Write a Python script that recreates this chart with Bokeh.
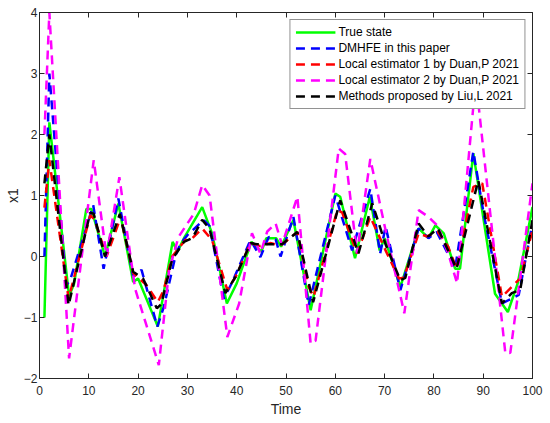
from bokeh.plotting import figure
from bokeh.models import Range1d, LinearAxis, Legend, LegendItem, FixedTicker, CustomLabelingPolicy
from bokeh.embed import file_html
from bokeh.resources import INLINE

# 真实状态与各估计器的折线顶点
true_t = [1, 2, 6, 7, 9.5, 10.5, 13.3, 16, 19, 20, 24, 27, 28, 29.3, 33, 35, 38, 40, 43, 45, 46, 48, 49,
          51.5, 55, 60, 61, 64, 67, 69, 70, 73.2, 76.9, 78.9, 80.3, 82, 84.3, 85.3, 88, 92.4, 95, 97, 100]
true_v = [-1.0, 2.2, -0.65, -0.45, 0.78, 0.78, 0.0, 0.87, -0.42, -0.36, -1.15, 0.24, 0.08, 0.3, 0.81, 0.38,
          -0.77, -0.44, 0.24, 0.08, 0.3, 0.3, 0.16, 0.6, -0.88, 1.03, 0.98, -0.03, 0.98, 0.1, 0.3, -0.5,
          0.46, 0.3, 0.51, 0.38, -0.2, -0.2, 1.69, -0.61, -0.91, -0.44, 0.81]

blue_t = [1, 2, 5.4, 6.2, 10.9, 13, 16, 19, 20.7, 23.9, 25.2, 27.6, 28.6, 30, 33.3, 34.5, 37.4, 39.1, 42.8,
          44.8, 46.5, 47.9, 48.9, 51.5, 54.6, 60, 63.4, 67.1, 69.1, 70.2, 73.2, 76.9, 78.9, 80.6, 82.5, 84.3,
          88, 90.1, 93.8, 97.2, 100]
blue_v = [0.0, 3.0, -0.47, -0.39, 0.84, -0.2, 0.95, -0.33, -0.22, -1.15, -0.83, 0.02, 0.21, 0.35, 0.6, 0.5,
          -0.69, -0.42, 0.27, -0.01, 0.32, 0.28, 0.0, 0.65, -0.8, 1.0, 0.1, 1.11, 0.05, 0.49, -0.55, 0.46,
          0.3, 0.4, 0.1, -0.2, 1.72, 0.7, -0.77, -0.63, 0.55]

red_t = [1, 2, 5.9, 10.3, 11.2, 13.6, 16, 16.7, 19, 21.7, 24, 25.2, 26.9, 29.6, 31, 33, 35, 38.1, 39.8, 42.8,
         44.8, 46.8, 48.2, 49.2, 52.3, 54.6, 55.6, 60.4, 61.4, 64.4, 67.1, 70.2, 72.9, 73.9, 76.9, 78.5,
         80.8, 82.9, 84.6, 88, 89.8, 93.8, 97.5, 100]
red_v = [0.8, 1.58, -0.69, 0.68, 0.6, 0.0, 0.54, 0.56, -0.27, -0.47, -0.75, -0.55, 0.0, 0.27, 0.3, 0.46, 0.27,
         -0.55, -0.33, 0.22, 0.17, 0.22, 0.19, 0.2, 0.4, -0.5, -0.66, 0.76, 0.72, 0.05, 0.65, 0.1, -0.36,
         -0.35, 0.38, 0.33, 0.4, 0.16, -0.2, 1.14, 1.2, -0.66, -0.36, 0.43]

mag_t = [1, 2, 6, 11, 13.6, 16.2, 19.4, 24.2, 26.3, 28.2, 31.3, 33, 34.5, 38.1, 40.5, 43.1, 44.8, 46.2, 47.9,
         49.2, 52.3, 55, 56, 60.7, 62, 64.4, 67.1, 70.2, 74, 76.9, 78.9, 80.8, 82.9, 84.7, 88.5, 94.5, 95.5, 100]
mag_v = [2.0, 4.0, -1.67, 1.58, 0.0, 1.3, -0.53, -1.78, -0.22, 0.32, 0.7, 1.17, 1.0, -1.32, -0.77, 0.38, 0.05,
         0.41, 0.54, 0.19, 0.98, -1.43, -1.38, 1.77, 1.68, 0.05, 1.6, 0.43, -0.93, 0.76, 0.65, 0.5, 0.05,
         -0.44, 2.9, -1.59, -1.58, 1.2]

black_t = [1, 2, 5.9, 10.3, 11, 13.3, 16.3, 19, 21, 23.8, 24.7, 26.9, 29.3, 31, 33, 34.5, 37.7, 39.8, 42.8,
           44.1, 46.8, 49.2, 52.3, 55.5, 61, 64.7, 67.5, 70.2, 73.2, 74.2, 76.9, 78.9, 80.8, 84.6, 89, 93.8,
           95.8, 97.5, 100]
black_v = [1.2, 2.0, -0.8, 0.72, 0.7, 0.0, 0.7, -0.25, -0.36, -0.85, -0.78, -0.05, 0.24, 0.3, 0.6, 0.45, -0.6,
           -0.33, 0.22, 0.2, 0.2, 0.2, 0.4, -0.75, 0.92, 0.05, 0.87, 0.2, -0.39, -0.35, 0.54, 0.33, 0.46,
           -0.2, 1.25, -0.77, -0.6, -0.55, 0.6]

labels = ["True state", "DMHFE in this paper", "Local estimator 1 by Duan,P 2021",
          "Local estimator 2 by Duan,P 2021", "Methods proposed by Liu,L 2021"]

x_ticks = [0, 10, 20, 30, 40, 50, 60, 70, 80, 90, 100]
y_ticks = [-2, -1, 0, 1, 2, 3, 4]

FONT = "Liberation Sans"
AX = "#262626"

p = figure(width=550, height=423, output_backend="svg", toolbar_location=None,
           x_range=Range1d(0, 100), y_range=Range1d(-2, 4),
           min_border_left=39, min_border_right=18, min_border_top=12, min_border_bottom=45)
p.grid.visible = False
p.outline_line_color = AX
p.background_fill_color = "white"

p.xaxis.axis_label = "Time"
p.yaxis.axis_label = "x1"
p.xaxis.ticker = FixedTicker(ticks=x_ticks)
p.yaxis.ticker = FixedTicker(ticks=y_ticks)

for ax in p.axis:
    ax.axis_line_color = AX
    ax.major_tick_line_color = AX
    ax.major_tick_in = 5
    ax.major_tick_out = 0
    ax.minor_tick_line_color = None
    ax.major_label_text_font = FONT
    ax.major_label_text_font_size = "12px"
    ax.major_label_text_color = AX
    ax.axis_label_text_font = FONT
    ax.axis_label_text_font_size = "14px"
    ax.axis_label_text_font_style = "normal"
    ax.axis_label_text_color = AX

p.xaxis.major_label_standoff = 7
p.xaxis.axis_label_standoff = 3
p.yaxis.major_label_standoff = 2
p.yaxis.axis_label_standoff = 0

# 上、右两条无标签轴（MATLAB 的 box on）
for side, tick_list in (("above", x_ticks), ("right", y_ticks)):
    a = LinearAxis(ticker=FixedTicker(ticks=tick_list),
                   major_label_policy=CustomLabelingPolicy(code="return new Set()"))
    a.axis_line_color = AX
    a.major_tick_line_color = AX
    a.major_tick_in = 5
    a.major_tick_out = 0
    a.minor_tick_line_color = None
    a.major_label_standoff = 0
    p.add_layout(a, side)

r0 = p.line(true_t, true_v, line_color="#00FF00", line_width=2.5)
r1 = p.line(blue_t, blue_v, line_color="#0000FF", line_width=2.5, line_dash="9 6")
r2 = p.line(red_t, red_v, line_color="#FF0000", line_width=2.5, line_dash="9 6")
r3 = p.line(mag_t, mag_v, line_color="#FF00FF", line_width=2.5, line_dash="9 6")
r4 = p.line(black_t, black_v, line_color="#000000", line_width=2.5, line_dash="9 6")

legend = Legend(items=[LegendItem(label=l, renderers=[r]) for l, r in zip(labels, [r0, r1, r2, r3, r4])],
                location="top_right", margin=7, padding=5, spacing=2,
                glyph_width=40, glyph_height=14, label_height=14, label_standoff=3,
                label_text_font=FONT, label_text_font_size="12px", label_text_color="black",
                border_line_color=AX, border_line_width=1, background_fill_alpha=1)
p.add_layout(legend)

open("out.html", "w").write(file_html(p, INLINE))
